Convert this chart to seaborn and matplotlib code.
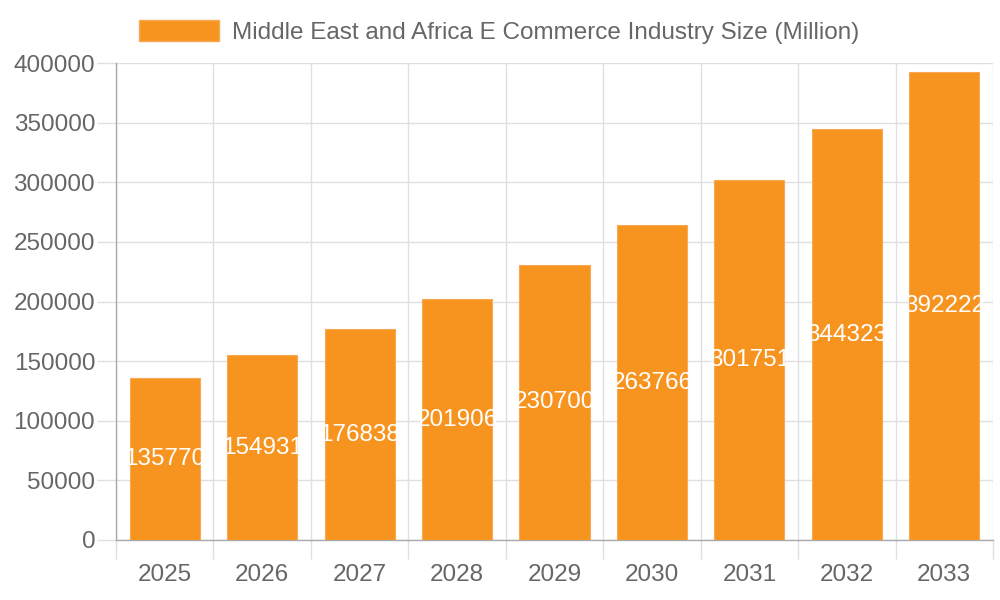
import matplotlib
matplotlib.use("Agg")
import matplotlib.pyplot as plt
import seaborn as sns
import pandas as pd
import numpy as np
from matplotlib.patches import Patch

years = ["2025", "2026", "2027", "2028", "2029", "2030", "2031", "2032", "2033"]
values = [135770, 154931, 176838, 201906, 230700, 263766, 301751, 344323, 392222]
series_name = "Middle East and Africa E Commerce Industry Size (Million)"
yticks = [0, 50000, 100000, 150000, 200000, 250000, 300000, 350000, 400000]

bar_color = "#F7941F"
text_gray = "#666666"
grid_color = "#E0E0E0"
FS = 17.5

sns.set_theme(style="white")
plt.rcParams['font.family'] = ['Liberation Sans', 'DejaVu Sans']

df = pd.DataFrame({"year": years, "value": values})

fig = plt.figure(figsize=(10, 6), dpi=100)
ax = fig.add_axes([0.116, 0.10, 0.877, 0.795])

sns.barplot(data=df, x="year", y="value", color=bar_color, saturation=1,
            width=0.72, ax=ax, zorder=3)

for p in ax.patches:
    p.set_edgecolor("#F9A955")
    p.set_linewidth(0.8)

ax.set_xlim(-0.5, len(years) - 0.5)
ax.set_ylim(0, 400000)
ax.set_yticks(yticks)
ax.set_yticklabels([str(t) for t in yticks])
ax.set_xlabel("")
ax.set_ylabel("")

# vertical grid at category boundaries
ax.set_xticks(np.arange(-0.5, len(years), 1.0), minor=True)
ax.grid(True, axis="y", color=grid_color, linewidth=1, zorder=0)
ax.grid(True, axis="x", which="minor", color=grid_color, linewidth=1, zorder=0)
ax.tick_params(axis="x", which="major", length=0, pad=17.5, labelsize=FS, labelcolor=text_gray)
ax.tick_params(axis="x", which="minor", length=13.5, color=grid_color, width=1)
ax.tick_params(axis="y", length=14, color=grid_color, width=1, pad=1, labelsize=FS, labelcolor=text_gray)
ax.tick_params(axis="x", bottom=True, which="both")
ax.tick_params(axis="y", left=True)

for s in ["top", "right"]:
    ax.spines[s].set_visible(False)
for s in ["left", "bottom"]:
    ax.spines[s].set_color("#AAAAAA")
    ax.spines[s].set_linewidth(1)

# value labels clipped to bars
for p, v in zip(ax.patches, values):
    cx = p.get_x() + p.get_width() / 2
    cy = p.get_height() / 2
    t = ax.text(cx, cy, str(v), ha="center", va="center", color="white",
                fontsize=FS, zorder=4)
    t.set_clip_path(p)

handle = Patch(facecolor=bar_color, edgecolor="#F9A955")
fig.legend([handle], [series_name], loc="center", bbox_to_anchor=(0.499, 0.947),
           frameon=False, fontsize=FS, labelcolor=text_gray,
           handlelength=3.3, handleheight=1.0, handletextpad=0.5,
           borderpad=0, borderaxespad=0)

fig.savefig("out.png", dpi=100)
